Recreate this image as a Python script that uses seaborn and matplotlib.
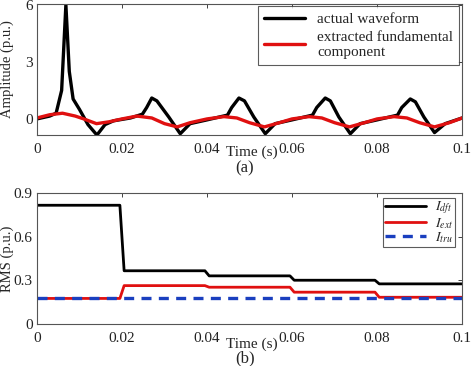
import matplotlib
matplotlib.use("Agg")
import matplotlib.pyplot as plt
import pandas as pd
import seaborn as sns

# Top panel: actual waveform (key points)
wave_t = [0.0, 0.003, 0.0045, 0.0058, 0.0068, 0.0076, 0.0085, 0.010, 0.012, 0.0141, 0.016, 0.018,
          0.022, 0.0248, 0.0258, 0.027, 0.0282, 0.031, 0.0337, 0.036, 0.040,
          0.0448, 0.0458, 0.0475, 0.0488, 0.051, 0.0537, 0.056, 0.060,
          0.0648, 0.0658, 0.0678, 0.0690, 0.071, 0.0737, 0.076, 0.080,
          0.0848, 0.0858, 0.0878, 0.0890, 0.091, 0.0935, 0.096, 0.100]
wave_v = [0.0, 0.15, 0.3, 1.5, 6.0, 2.5, 1.05, 0.5, -0.3, -0.85, -0.3, -0.1,
          0.05, 0.25, 0.6, 1.1, 0.95, 0.1, -0.78, -0.25, -0.05,
          0.2, 0.6, 1.1, 0.95, 0.1, -0.78, -0.25, -0.05,
          0.2, 0.6, 1.1, 0.95, 0.1, -0.78, -0.25, -0.05,
          0.2, 0.6, 1.05, 0.9, 0.1, -0.72, -0.25, 0.05]

# Top panel: extracted fundamental component
fund_t = [0.0, 0.003, 0.006, 0.009, 0.011, 0.014, 0.017, 0.020, 0.0235, 0.027, 0.030, 0.033, 0.036,
          0.040, 0.044, 0.047, 0.050, 0.0535, 0.057, 0.060, 0.064, 0.067, 0.070, 0.0735, 0.077,
          0.080, 0.084, 0.087, 0.090, 0.0935, 0.097, 0.100]
fund_v = [0.05, 0.22, 0.3, 0.15, 0.0, -0.25, -0.15, 0.0, 0.15, 0.05, -0.25, -0.42, -0.2,
          0.0, 0.12, 0.05, -0.2, -0.42, -0.2, 0.0, 0.12, 0.05, -0.2, -0.42, -0.2,
          0.0, 0.12, 0.05, -0.2, -0.42, -0.2, 0.05]

# Bottom panel: RMS estimates
rms_t = [0.0, 0.0195, 0.0205, 0.0395, 0.0405, 0.0595, 0.0605, 0.0795, 0.0805, 0.1]
i_dft = [0.815, 0.815, 0.365, 0.365, 0.33, 0.33, 0.30, 0.30, 0.275, 0.275]
i_ext = [0.175, 0.175, 0.263, 0.263, 0.252, 0.252, 0.218, 0.218, 0.183, 0.183]
i_tru = [0.175, 0.175, 0.175, 0.175, 0.175, 0.175, 0.175, 0.175, 0.175, 0.175]

x_ticks = [0, 0.02, 0.04, 0.06, 0.08, 0.1]
x_labels = ["0", "0.02", "0.04", "0.06", "0.08", "0.1"]

sns.set_theme(style="white")
plt.rcParams["font.family"] = ["Liberation Serif", "DejaVu Serif"]
plt.rcParams["mathtext.fontset"] = "stix"

red = "#e01010"
blue = "#1a3fbf"

fig = plt.figure(figsize=(4.74, 3.66), dpi=100)
ax1 = fig.add_axes([0.078, 0.631, 0.897, 0.358])
ax2 = fig.add_axes([0.078, 0.115, 0.897, 0.358])

df_top = pd.DataFrame({"t": wave_t, "v": wave_v})
df_fund = pd.DataFrame({"t": fund_t, "v": fund_v})
sns.lineplot(data=df_top, x="t", y="v", ax=ax1, color="black", lw=2.4,
             label="actual waveform", sort=False, estimator=None)
sns.lineplot(data=df_fund, x="t", y="v", ax=ax1, color=red, lw=2.4,
             label="extracted fundamental\ncomponent", sort=False, estimator=None)
ax1.set_xlim(0, 0.1)
ax1.set_ylim(-0.85, 6.05)
ax1.set_yticks([0, 3, 6])
ax1.set_ylabel("Amplitude (p.u.)", fontsize=10.5)

df_rms = pd.DataFrame({"t": rms_t, "dft": i_dft, "ext": i_ext, "tru": i_tru})
sns.lineplot(data=df_rms, x="t", y="dft", ax=ax2, color="black", lw=2.0,
             label="$I_{dft}$", estimator=None)
sns.lineplot(data=df_rms, x="t", y="ext", ax=ax2, color=red, lw=2.0,
             label="$I_{ext}$", estimator=None)
sns.lineplot(data=df_rms, x="t", y="tru", ax=ax2, color=blue, lw=2.4,
             label="$I_{tru}$", estimator=None, linestyle=(0, (3, 2.2)))
ax2.set_xlim(0, 0.1)
ax2.set_ylim(0, 0.9)
ax2.set_yticks([0, 0.3, 0.6, 0.9])
ax2.set_yticklabels(["0", "0.3", "0.6", "0.9"])
ax2.set_ylabel("RMS (p.u.)", fontsize=10.5)

for ax in (ax1, ax2):
    ax.set_xticks(x_ticks)
    ax.set_xticklabels(x_labels)
    ax.tick_params(direction="in", top=True, right=True, length=3, width=0.6,
                   labelsize=11, pad=3, colors="#222222")
    ax.tick_params(axis="x", pad=6)
    for s in ax.spines.values():
        s.set_color("#555555")
        s.set_linewidth(0.8)
    ax.set_xlabel("Time (s)", fontsize=11, va="top")
    ax.yaxis.set_label_coords(-0.054, 0.5)

ax1.xaxis.set_label_coords(0.506, -0.08)
ax2.xaxis.set_label_coords(0.506, -0.105)

leg1 = ax1.legend(loc="upper right", bbox_to_anchor=(0.997, 0.995), fontsize=11, frameon=True,
                  fancybox=False, edgecolor="#333333", handlelength=2.7, borderpad=0.4,
                  labelspacing=0.3, borderaxespad=0.1)
leg1.get_frame().set_linewidth(0.8)
leg2 = ax2.legend(loc="upper right", bbox_to_anchor=(0.99, 0.985), fontsize=10, frameon=True,
                  fancybox=False, edgecolor="#333333", handlelength=3.0, borderpad=0.15,
                  labelspacing=-0.05, handletextpad=0.6, borderaxespad=0.2)
leg2.get_frame().set_linewidth(0.8)

fig.text(0.515, 0.541, "(a)", ha="center", va="center", fontsize=12)
fig.text(0.518, 0.022, "(b)", ha="center", va="center", fontsize=12)

fig.savefig("out.png", dpi=100)
